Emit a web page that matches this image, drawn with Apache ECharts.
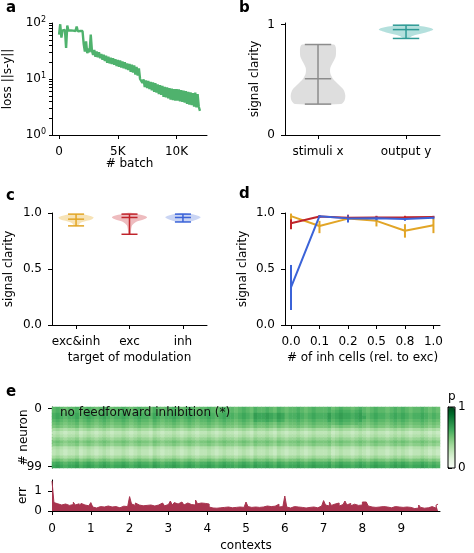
<!DOCTYPE html>
<html><head><meta charset="utf-8">
<script src="https://cdn.jsdelivr.net/npm/echarts@6/dist/echarts.min.js"></script>
<style>html,body{margin:0;padding:0;background:#fff}#c{width:474px;height:553px}</style>
</head><body><div id="c"></div>
<script>
const F = 'DejaVu Sans';

// ---------- panel a: loss curve (one value every 100 batches) ----------
const lossBatchStep = 100;
const lossValues = [62, 95, 55, 74, 72, 75, 36, 90, 73, 71,
 74, 72, 73, 74, 72, 86, 71, 73, 72, 74,
 72, 42, 31, 47, 29, 35, 30, 62, 32, 27,
 33, 25, 31, 24.5, 30, 23.5, 28, 22, 27, 21,
 26, 19.5, 25, 19, 24, 18.5, 23.5, 18, 22.5, 17,
 22, 16.5, 21.5, 16, 20.5, 15.5, 20, 15, 19, 14.5,
 18.5, 13.5, 18, 13, 17.5, 12, 16.5, 11.5, 15.5, 10,
 10.5, 8.5, 9.8, 7.2, 9.4, 6.9, 9.2, 6.6, 8.9, 6.3,
 8.7, 5.9, 8.4, 5.7, 8, 5.4, 7.8, 5.2, 7.5, 4.8,
 7.2, 4.7, 7.1, 4.5, 6.9, 4.3, 6.7, 4.2, 6.6, 4.1,
 6.6, 4.1, 6.5, 4, 6.3, 3.9, 6.2, 3.8, 6.1, 3.6,
 5.9, 3.5, 5.8, 3.4, 5.6, 3.2, 5.7, 3.1, 5.4, 3.2,
 2.7];
const lossTicks = [0, 5000, 10000];
const lossTickLabels = ['0', '5K', '10K'];
const lossYTicks = [1, 10, 100];
const lossAllYTicks = [1,2,3,4,5,6,7,8,9,10,20,30,40,50,60,70,80,90,100];

// ---------- panel b: violins ----------
const bCats = ['stimuli x', 'output y'];
const bMin = [0.28, 0.875];
const bMax = [0.82, 0.995];
const bMid = [0.51, 0.955];
const bStimY = [0.28, 0.31, 0.36, 0.41, 0.46, 0.51, 0.56, 0.61, 0.66, 0.71, 0.76, 0.80, 0.82];
const bStimW = [0.26, 0.30, 0.31, 0.29, 0.23, 0.17, 0.14, 0.14, 0.17, 0.20, 0.205, 0.20, 0.18];
const bOutY = [0.875, 0.90, 0.92, 0.94, 0.955, 0.97, 0.985, 1.0];
const bOutW = [0.02, 0.08, 0.18, 0.27, 0.31, 0.28, 0.18, 0.06];

// ---------- panel c: violins ----------
const cCats = ['exc&inh', 'exc', 'inh'];
const cMin = [0.885, 0.81, 0.92];
const cMax = [0.99, 0.99, 0.99];
const cMid = [0.945, 0.96, 0.96];
const cExcInhY = [0.885, 0.91, 0.93, 0.945, 0.96, 0.975, 0.99];
const cExcInhW = [0.03, 0.08, 0.20, 0.30, 0.33, 0.25, 0.10];
const cExcY = [0.81, 0.85, 0.89, 0.92, 0.94, 0.96, 0.975, 0.99, 1.0];
const cExcW = [0.02, 0.03, 0.05, 0.12, 0.25, 0.33, 0.28, 0.14, 0.05];
const cInhY = [0.92, 0.935, 0.95, 0.962, 0.975, 0.99, 1.0];
const cInhW = [0.10, 0.22, 0.30, 0.33, 0.28, 0.15, 0.05];

// ---------- panel d: lines with error bars ----------
const dCats = ['0.0', '0.1', '0.2', '0.5', '0.8', '1.0'];
const dOrangeMean = [0.972, 0.884, 0.95, 0.93, 0.842, 0.89];
const dOrangeLo   = [0.935, 0.82, 0.935, 0.88, 0.78, 0.82];
const dOrangeHi   = [0.995, 0.93, 0.965, 0.965, 0.90, 0.95];
const dRedMean = [0.908, 0.968, 0.958, 0.96, 0.962, 0.965];
const dRedLo   = [0.855, 0.958, 0.92, 0.945, 0.95, 0.955];
const dRedHi   = [0.943, 0.978, 0.985, 0.975, 0.975, 0.975];
const dBlueMean = [0.336, 0.972, 0.952, 0.954, 0.946, 0.958];
const dBlueLo   = [0.134, 0.962, 0.915, 0.935, 0.93, 0.945];
const dBlueHi   = [0.536, 0.982, 0.98, 0.97, 0.962, 0.97];

// ---------- panel e: heatmap (20 row groups of 5 neurons x 100 columns, 10 per context) ----------
// letters a..z encode p = 0 .. 1 in steps of 1/25
const heatRows = [
 'oponoopnop onoponoopo nopoonpono oponoponoo ponopoonop onpooponpo nooponopoo opnopoonop onopoonopo ponooponon',
 'oponoopnop onoponoopo nopoonpono oponoponoo ponopoonop onpooponpo nooponopoo opopqppopq onopoonopo ponooponon',
 'pqpoppqopq popqpoppqp opqppoqpop pqpopqpopp qpopqppopq porqqrqprq oppqpopqpp prpqrqqpqr popqppopqp qpoppqpopo',
 'pqpoppqopq popqpoppqp opqppoqpop pqpopqpopp qpopqppopq porqqrqprq oppqpopqpp prpqrqqpqr qopqppopqp qpoppqpopo',
 'oponoopnop onoponoopo nopoonpono oponoponoo ponopoonop onqppqpoqp nooponopoo oqopqppopq onopoonopo ponooponon',
 'nonmnnomno nmnonmnnon mnonnmonmn nonmnonmnn onmnonnmno nmonnonmon mnnonmnonn nonopoonoo nmnonnmnon onmnnonmnm',
 'mnmlmmnlmn mlmnmlmmnm lmnmmlnmlm mnmlmnmlmm nmlmnmmlmn mlnmmnmlnm lmmnmlmnmm mnlmnmmlmn mlmnmmlmnm nmlmmnmlml',
 'jkjijjkijk jijkjijjkj ijkjjikjij jkjijkjijj kjijkjjijk jikjjkjikj ijjkjijkjj jkijkjjijk jijkjjijkj kjijjkjiji',
 'hihghhighi hghihghhih ghihhgihgh hihghihghh ihghihhghi hgihhihgih ghhihghihh highihhghi hghihhghih ihghhihghg',
 'ijihiijhij ihijihiiji hijiihjihi ijihijihii jihijiihij ihjiijihji hiijihijii ijhijiihij ihijiihiji jihiijihih',
 'klkjkkljkl kjklkjkklk jklkkjlkjk klkjklkjkk lkjklkkjkl kjlkklkjlk jkklkjklkk kljklkkjkl kjklkkjklk lkjkklkjkj',
 'mnmlmmnlmn mlmnmlmmnm lmnmmlnmlm mnmlmnmlmm nmlmnmmlmn mlnmmnmlnm lmmnmlmnmm mnlmnmmlmn mlmnmmlmnm nmlmmnmlml',
 'lmlkllmklm lklmlkllml klmllkmlkl lmlklmlkll mlklmllklm lkmllmlkml kllmlklmll lmklmllklm lklmllklml mlkllmlklk',
 'ijihiijhij ihijihiiji hijiihjihi ijihijihii jihijiihij ihjiijihji hiijihijii ijhijiihij ihijiihiji jihiijihih',
 'hihghhighi hghihghhih ghihhgihgh hihghihghh ihghihhghi hgihhihgih ghhihghihh highihhghi hghihhghih ihghhihghg',
 'hihghhighi hghihghhih ghihhgihgh hihghihghh ihghihhghi hgihhihgih ghhihghihh highihhghi hghihhghih ihghhihghg',
 'jkjijjkijk jijkjijjkj ijkjjikjij jkjijkjijj kjijkjjijk jikjjkjikj ijjkjijkjj jkijkjjijk jijkjjijkj kjijjkjiji',
 'mnmlmmnlmn mlmnmlmmnm lmnmmlnmlm mnmlmnmlmm nmlmnmmlmn mlnmmnmlnm lmmnmlmnmm mnlmnmmlmn mlmnmmlmnm nmlmmnmlml',
 'pqpoppqopq popqpoppqp opqppoqpop pqpopqpopp qpopqppopq poqppqpoqp oppqpopqpp pqopqppopq popqppopqp qpoppqpopo',
 'qrqpqqrpqr qpqrqpqqrq pqrqqprqpq qrqpqrqpqq rqpqrqqpqr qprqqrqprq pqqrqpqrqq qrpqrqqpqr qpqrqqpqrq rqpqqrqpqp'
];
const heatAnnotation = 'no feedforward inhibition (*)';

// ---------- panel e: error trace (20 samples per context) ----------
const errStep = 0.05;
const errValues = [
 1.5, 0.42, 0.36, 0.42, 0.3, 0.4, 0.35, 0.42, 0.28, 0.38, 0.32, 0.44, 0.3, 0.36, 0.25, 0.38, 0.3, 0.4, 0.26, 0.35,
 0.42, 0.2, 0.15, 0.18, 0.22, 0.15, 0.2, 0.18, 0.25, 0.16, 0.2, 0.15, 0.22, 0.18, 0.16, 0.2, 0.24, 0.18, 0.22, 0.25,
 0.72, 0.35, 0.28, 0.4, 0.3, 0.35, 0.26, 0.32, 0.28, 0.36, 0.3, 0.38, 0.25, 0.33, 0.3, 0.28, 0.4, 0.3, 0.26, 0.32,
 0.38, 0.5, 0.3, 0.42, 0.35, 0.28, 0.45, 0.36, 0.3, 0.4, 0.5, 0.32, 0.42, 0.3, 0.55, 0.36, 0.4, 0.3, 0.38, 0.32,
 0.35, 0.2, 0.15, 0.18, 0.14, 0.2, 0.16, 0.12, 0.18, 0.15, 0.2, 0.14, 0.16, 0.12, 0.18, 0.15, 0.2, 0.14, 0.18, 0.16,
 0.45, 0.22, 0.18, 0.26, 0.2, 0.24, 0.18, 0.22, 0.2, 0.16, 0.25, 0.2, 0.22, 0.18, 0.24, 0.28, 0.34, 0.2, 0.22, 0.18,
 0.75, 0.2, 0.15, 0.18, 0.22, 0.14, 0.2, 0.16, 0.18, 0.22, 0.15, 0.2, 0.18, 0.14, 0.2, 0.22, 0.16, 0.18, 0.25, 0.2,
 0.52, 0.3, 0.25, 0.45, 0.28, 0.35, 0.3, 0.4, 0.25, 0.32, 0.28, 0.5, 0.3, 0.38, 0.26, 0.34, 0.3, 0.28, 0.36, 0.3,
 0.45, 0.45, 0.42, 0.25, 0.2, 0.22, 0.18, 0.24, 0.2, 0.16, 0.22, 0.18, 0.2, 0.25, 0.16, 0.2, 0.22, 0.18, 0.2, 0.16,
 0.18, 0.15, 0.2, 0.14, 0.18, 0.16, 0.12, 0.2, 0.15, 0.3, 0.18, 0.14, 0.2, 0.16, 0.15, 0.22, 0.18, 0.14, 0.3, 0.34
];
const errXTicks = [0,1,2,3,4,5,6,7,8,9];

// ---------- colours ----------
const GREENS = ['#f7fcf5','#e5f5e0','#c7e9c0','#a1d99b','#74c476','#41ab5d','#238b45','#006d2c','#00441b'];
const C_LOSS = '#4fb26d', C_ERR = '#a8344f';
const C_GRAY = '#8c8c8c', C_TEAL = '#2f9a95';
const C_OR = '#e2a526', C_RED = '#c0242b', C_BLUE = '#3b63d8';

// ---------- helpers ----------
function mkAxis(gridIndex, extra) {
  const base = {
    gridIndex,
    axisLine: {show: true, onZero: false, lineStyle: {color: '#000', width: 1}},
    axisTick: {show: true, inside: false, length: 4, lineStyle: {color: '#000', width: 1}},
    axisLabel: {show: true, color: '#000', fontSize: 12, fontFamily: F, margin: 10},
    splitLine: {show: false},
    nameLocation: 'middle',
    nameMoveOverlap: false,
    nameTextStyle: {color: '#000', fontSize: 12, fontFamily: F}
  };
  for (const k in extra) {
    if (base[k] && typeof base[k] === 'object' && typeof extra[k] === 'object' && !Array.isArray(extra[k]))
      base[k] = Object.assign({}, base[k], extra[k]);
    else base[k] = extra[k];
  }
  return base;
}

function violinSeries(xi, yi, profY, profW, fills, strokes, halfLine) {
  return {
    type: 'custom', xAxisIndex: xi, yAxisIndex: yi, silent: true,
    renderItem: function (params, api) {
      const i = params.dataIndex;
      const pos = api.value(0), lo = api.value(1), hi = api.value(2), mid = api.value(3);
      const ys = profY[i], ws = profW[i];
      const pts = [];
      for (let k = 0; k < ys.length; k++) pts.push(api.coord([pos + ws[k], ys[k]]));
      for (let k = ys.length - 1; k >= 0; k--) pts.push(api.coord([pos - ws[k], ys[k]]));
      const st = {stroke: strokes[i], lineWidth: 1.5};
      const L = (a, b) => ({type: 'line', shape: {x1: a[0], y1: a[1], x2: b[0], y2: b[1]}, style: st});
      return {type: 'group', children: [
        {type: 'polygon', shape: {points: pts, smooth: 0.3}, style: {fill: fills[i], stroke: null}},
        L(api.coord([pos, lo]), api.coord([pos, hi])),
        L(api.coord([pos - halfLine, lo]), api.coord([pos + halfLine, lo])),
        L(api.coord([pos - halfLine, hi]), api.coord([pos + halfLine, hi])),
        L(api.coord([pos - halfLine, mid]), api.coord([pos + halfLine, mid]))
      ]};
    }
  };
}

function errBarSeries(xi, yi, lo, hi, color) {
  return {
    type: 'custom', xAxisIndex: xi, yAxisIndex: yi, silent: true, z: 3,
    data: lo.map((v, i) => [i, v, hi[i]]),
    renderItem: function (params, api) {
      const a = api.coord([api.value(0), api.value(1)]);
      const b = api.coord([api.value(0), api.value(2)]);
      return {type: 'line', shape: {x1: a[0], y1: a[1], x2: b[0], y2: b[1]}, style: {stroke: color, lineWidth: 2}};
    }
  };
}

function lineSeries(xi, yi, vals, color, z) {
  return {type: 'line', xAxisIndex: xi, yAxisIndex: yi, data: vals.map((v, i) => [i, v]),
    showSymbol: false, symbol: 'none', z: z, lineStyle: {color: color, width: 2}, itemStyle: {color: color}, silent: true};
}

// heatmap table
const heatCols = heatRows[0].replace(/ /g, '').split('').map((_, j) => String(j));
const heatRowLabels = heatRows.map((_, r) => String(r));
const heatData = [];
heatRows.forEach((row, r) => {
  row.replace(/ /g, '').split('').forEach((ch, c) => {
    heatData.push([c, r, (ch.charCodeAt(0) - 97) / 25]);
  });
});
const lastRow = heatRows.length - 1;
const rowTickShow = (i) => i === 0 || i === lastRow;

const chart = echarts.init(document.getElementById('c'), null, {renderer: 'canvas'});
chart.setOption({
  animation: false,
  backgroundColor: '#fff',
  textStyle: {fontFamily: F},
  grid: [
    {left: 52, top: 23, width: 155, height: 112},   // a
    {left: 285, top: 23, width: 155, height: 112},  // b
    {left: 52, top: 213, width: 155, height: 112},  // c
    {left: 285, top: 213, width: 155, height: 112}, // d
    {left: 52, top: 407, width: 388, height: 61},   // e heat
    {left: 448, top: 407, width: 7, height: 61, show: true, borderColor: '#000', borderWidth: 1, backgroundColor: 'transparent', z: 10}, // colorbar
    {left: 52, top: 480, width: 388, height: 33}    // e err
  ],
  xAxis: [
    mkAxis(0, {type: 'value', min: -600, max: 12600,
      axisTick: {customValues: lossTicks}, axisLabel: {customValues: lossTicks, formatter: v => lossTickLabels[lossTicks.indexOf(v)], margin: 11},
      name: '# batch', nameGap: 23}),
    mkAxis(1, {type: 'value', min: 0.625, max: 2.386,
      axisTick: {customValues: [1, 2]}, axisLabel: {customValues: [1, 2], formatter: v => bCats[Math.round(v) - 1], margin: 11}}),
    mkAxis(2, {type: 'value', min: 0.55, max: 3.45,
      axisTick: {customValues: [1, 2, 3]}, axisLabel: {customValues: [1, 2, 3], formatter: v => cCats[Math.round(v) - 1], margin: 11},
      name: 'target of modulation', nameGap: 27}),
    mkAxis(3, {type: 'value', min: -0.21, max: 5.23,
      axisTick: {customValues: [0, 1, 2, 3, 4, 5]}, axisLabel: {customValues: [0, 1, 2, 3, 4, 5], formatter: v => dCats[Math.round(v)], margin: 11},
      name: '# of inh cells (rel. to exc)', nameGap: 27}),
    {gridIndex: 4, type: 'category', data: heatCols, show: false},
    {gridIndex: 5, type: 'value', show: false, min: 0, max: 1},
    mkAxis(6, {type: 'value', min: 0, max: 10,
      axisTick: {customValues: errXTicks}, axisLabel: {customValues: errXTicks, margin: 12},
      name: 'contexts', nameGap: 29})
  ],
  yAxis: [
    mkAxis(0, {type: 'log', logBase: 10, min: 1, max: 100,
      axisTick: {customValues: lossAllYTicks, length: 3},
      axisLabel: {customValues: lossYTicks, margin: 6, formatter: v => '10{s|' + Math.round(Math.log10(v)) + '}',
        rich: {s: {fontSize: 8, fontFamily: F, color: '#000', verticalAlign: 'top', padding: [0, 0, 6, 0]}}},
      name: 'loss ||s-y||', nameGap: 38}),
    mkAxis(1, {type: 'value', min: 0, max: 1.015,
      axisTick: {customValues: [0, 1]}, axisLabel: {customValues: [0, 1]},
      name: 'signal clarity', nameGap: 24}),
    mkAxis(2, {type: 'value', min: 0, max: 1, interval: 0.5,
      axisLabel: {formatter: v => v.toFixed(1)}, name: 'signal clarity', nameGap: 37}),
    mkAxis(3, {type: 'value', min: 0, max: 1, interval: 0.5,
      axisLabel: {formatter: v => v.toFixed(1)}, name: 'signal clarity', nameGap: 36}),
    mkAxis(4, {type: 'category', data: heatRowLabels, inverse: true,
      axisTick: {alignWithLabel: true, interval: rowTickShow},
      axisLabel: {interval: rowTickShow, formatter: (v, i) => (i === 0 ? '0' : (i === lastRow ? '99' : ''))},
      name: '# neuron', nameGap: 22}),
    {gridIndex: 5, type: 'value', position: 'right', min: 0, max: 1, interval: 1,
      axisLine: {show: true, lineStyle: {color: '#000', width: 1}},
      axisTick: {show: true, length: 4, lineStyle: {color: '#000', width: 1}},
      axisLabel: {show: true, color: '#000', fontSize: 12, fontFamily: F, margin: 3},
      splitLine: {show: false}},
    mkAxis(6, {type: 'value', min: 0, max: 1.55,
      axisTick: {customValues: [0, 1]}, axisLabel: {customValues: [0, 1]},
      name: 'err', nameGap: 23})
  ],
  visualMap: [{
    type: 'continuous', seriesIndex: 9, min: 0, max: 1, show: true, orient: 'vertical',
    left: 448, top: 407, itemWidth: 7, itemHeight: 61, padding: 0, calculable: false,
    text: null, showLabel: false, inRange: {color: GREENS}, hoverLink: false
  }],
  series: [
    // 0 a
    {type: 'line', xAxisIndex: 0, yAxisIndex: 0, data: lossValues.map((v, i) => [i * lossBatchStep, v]),
      showSymbol: false, symbol: 'none', lineStyle: {color: C_LOSS, width: 2.4}, silent: true},
    // 1 b violins
    Object.assign(violinSeries(1, 1, [bStimY, bOutY], [bStimW, bOutW],
      ['#dedede', '#b4e0dd'], [C_GRAY, C_TEAL], 0.15),
      {data: bCats.map((c, i) => [i + 1, bMin[i], bMax[i], bMid[i]])}),
    // 2 c violins
    Object.assign(violinSeries(2, 2, [cExcInhY, cExcY, cInhY], [cExcInhW, cExcW, cInhW],
      ['#f7e3b6', '#eebcbf', '#cad5f4'], [C_OR, C_RED, C_BLUE], 0.15),
      {data: cCats.map((c, i) => [i + 1, cMin[i], cMax[i], cMid[i]])}),
    // 3-5 d lines
    lineSeries(3, 3, dOrangeMean, C_OR, 2),
    lineSeries(3, 3, dRedMean, C_RED, 4),
    lineSeries(3, 3, dBlueMean, C_BLUE, 6),
    // 6-8 d error bars
    errBarSeries(3, 3, dOrangeLo, dOrangeHi, C_OR),
    errBarSeries(3, 3, dRedLo, dRedHi, C_RED),
    errBarSeries(3, 3, dBlueLo, dBlueHi, C_BLUE),
    // 9 heatmap
    {type: 'heatmap', xAxisIndex: 4, yAxisIndex: 4, data: heatData, silent: true, progressive: 0},
    // 10 err trace
    {type: 'line', xAxisIndex: 6, yAxisIndex: 6, step: 'end', data: errValues.map((v, i) => [i * errStep, v]),
      showSymbol: false, symbol: 'none', lineStyle: {color: C_ERR, width: 1}, areaStyle: {color: C_ERR, opacity: 1}, silent: true}
  ],
  graphic: [
    {type: 'text', left: 6, top: 1, z: 100, style: {text: 'a', font: 'bold 15px "DejaVu Sans"', fill: '#000'}},
    {type: 'text', left: 239, top: 1, z: 100, style: {text: 'b', font: 'bold 15px "DejaVu Sans"', fill: '#000'}},
    {type: 'text', left: 6, top: 189, z: 100, style: {text: 'c', font: 'bold 15px "DejaVu Sans"', fill: '#000'}},
    {type: 'text', left: 239, top: 187, z: 100, style: {text: 'd', font: 'bold 15px "DejaVu Sans"', fill: '#000'}},
    {type: 'text', left: 6, top: 385, z: 100, style: {text: 'e', font: 'bold 15px "DejaVu Sans"', fill: '#000'}},
    {type: 'text', left: 60, top: 407, z: 100, style: {text: heatAnnotation, font: '12px "DejaVu Sans"', fill: '#111'}},
    {type: 'text', left: 448, top: 391, z: 100, style: {text: 'p', font: '12px "DejaVu Sans"', fill: '#000'}}
  ]
});
</script>
</body></html>
